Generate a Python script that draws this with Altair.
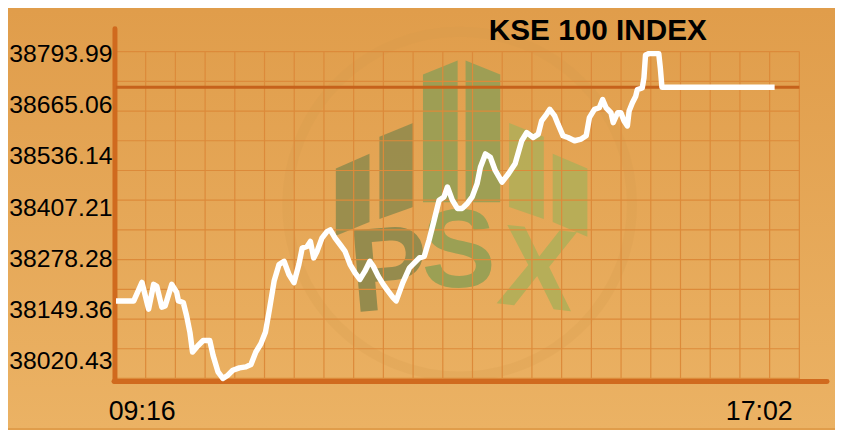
import altair as alt
import pandas as pd

# ---------------- data ----------------
title_text = "KSE 100 INDEX"

# minute of day (09:16 -> 556) and KSE-100 index value
minutes = [
    536.6, 550.0, 556.2, 561.2, 565.0, 567.4, 571.2, 573.7, 578.7, 582.4,
    583.7, 587.4, 589.9, 592.4, 594.4, 598.6, 602.4, 607.4, 609.9, 613.6,
    617.3, 621.1, 624.8, 629.8, 634.7, 638.5, 642.2, 646.0, 649.5, 652.5,
    656.0, 659.7, 663.5, 667.2, 671.0, 674.7, 677.2, 680.9, 683.4, 685.9,
    688.4, 692.1, 695.9, 698.4, 702.1, 705.9, 709.6, 713.4, 717.1, 720.8,
    724.6, 728.3, 730.9, 734.6, 738.4, 742.1, 745.8, 748.2, 753.2, 758.2,
    765.7, 769.4, 773.1, 776.9, 780.6, 784.3, 786.9, 790.6, 794.4, 798.1,
    801.9, 805.6, 809.3, 811.8, 815.6, 819.3, 823.0, 828.1, 833.0, 838.0,
    843.0, 846.8, 851.7, 855.5, 858.0, 861.7, 864.2, 867.9, 870.4, 874.2,
    877.9, 882.9, 887.9, 891.7, 894.1, 897.9, 901.6, 904.1, 906.7, 910.4,
    912.1, 915.4, 917.9, 920.3, 922.8, 924.1, 926.6, 929.1, 930.3, 934.0,
    935.3, 936.5, 939.0, 946.5, 947.7, 948.9, 1034.0,
]
index_values = [
    38170.9, 38170.9, 38217.6, 38150.2, 38212.6, 38207.6, 38155.2, 38158.4, 38212.6, 38192.6,
    38170.9, 38166.9, 38133.5, 38092.0, 38042.1, 38058.6, 38071.1, 38071.1, 38033.6, 37992.2,
    37975.5, 37983.7, 37996.2, 38002.2, 38004.7, 38010.4, 38042.1, 38062.9, 38092.8, 38150.2,
    38220.8, 38262.5, 38270.7, 38237.5, 38216.8, 38262.5, 38304.1, 38308.1, 38320.6, 38279.2,
    38295.6, 38329.1, 38345.6, 38349.8, 38329.1, 38312.4, 38295.6, 38262.5, 38241.8, 38225.0,
    38245.8, 38270.7, 38258.2, 38233.3, 38212.6, 38195.8, 38179.4, 38170.9, 38216.8, 38254.2,
    38279.2, 38283.2, 38324.9, 38374.8, 38424.7, 38432.9, 38457.9, 38424.7, 38403.9, 38403.9,
    38416.4, 38432.9, 38466.3, 38507.8, 38541.2, 38532.8, 38499.5, 38470.3, 38491.3, 38516.3,
    38574.4, 38595.1, 38582.6, 38591.1, 38624.3, 38641.0, 38653.5, 38636.8, 38616.1, 38586.9,
    38582.6, 38574.4, 38578.6, 38586.9, 38632.5, 38653.5, 38657.5, 38678.5, 38657.5, 38645.0,
    38620.1, 38645.0, 38645.0, 38624.3, 38611.8, 38649.3, 38670.0, 38686.7, 38703.4, 38707.4,
    38732.4, 38790.7, 38793.99, 38793.99, 38757.3, 38709.1, 38709.1,
]
previous_close = [38709.1]

y_tick_values = [38793.99, 38665.06, 38536.14, 38407.21, 38278.28, 38149.36, 38020.43]
x_tick_labels = ["09:16", "17:02"]

# ---------------- styling / layout ----------------
FONT = "Liberation Sans"
W, H = 690, 332
X_DOMAIN = [536.55, 1052.67]
Y_DOMAIN = [37970.5, 38799.0]

BG_TOP, BG_BOTTOM = "#e09d4b", "#ebb264"
GRID = "#dc8a3a"
AXIS = "#d06a1e"
REF = "#c6621b"


def to_minute(s):
    h, m = s.split(":")
    return int(h) * 60 + int(m)


x_tick_values = [to_minute(s) for s in x_tick_labels]
label_expr = " : ".join(
    f"datum.value == {v} ? '{s}'" for v, s in zip(x_tick_values, x_tick_labels)
) + " : ''"

df = pd.DataFrame({"minute": minutes, "value": index_values})

x_scale = alt.Scale(domain=X_DOMAIN, nice=False, zero=False)
y_scale = alt.Scale(domain=Y_DOMAIN, nice=False, zero=False)

x_enc = alt.X(
    "minute:Q", scale=x_scale,
    axis=alt.Axis(values=x_tick_values, labelExpr=label_expr, orient="bottom",
                  grid=False, domain=False, ticks=False, labelFontSize=27,
                  labelFont=FONT, labelColor="black", labelPadding=18,
                  labelFlush=False, labelOverlap=False, title=None, zindex=2),
)
y_enc = alt.Y(
    "value:Q", scale=y_scale,
    axis=alt.Axis(values=y_tick_values, format=".2f", orient="left",
                  grid=False, domain=False, ticks=False, labelFontSize=25,
                  labelFont=FONT, labelColor="black", labelPadding=4,
                  labelFlush=False, labelOverlap=False, title=None, zindex=2),
)

ref_line = alt.Chart(pd.DataFrame({"value": previous_close})).mark_rule(
    color=REF, strokeWidth=3
).encode(y=y_enc)

index_line = alt.Chart(df).mark_line(
    color="white", strokeWidth=5.5, strokeCap="butt", strokeJoin="round"
).encode(x=x_enc, y=y_enc)

data_layer = alt.layer(ref_line, index_line)

# ---------------- decoration (frame, grid, PSX watermark, title) ----------------
# drawn in the picture's own pixel space
px_x = alt.Scale(domain=[117, 807], nice=False, zero=False)
px_y = alt.Scale(domain=[50, 382], nice=False, zero=False, reverse=True)


def PX(field, **kw):
    return alt.X(field, scale=px_x, axis=None, **kw)


def PY(field, **kw):
    return alt.Y(field, scale=px_y, axis=None, **kw)


bg = alt.Chart(pd.DataFrame({"x": [8], "x2": [843], "y": [8], "y2": [430]})).mark_rect(
    color=alt.Gradient(gradient="linear", x1=0, y1=0, x2=0, y2=1,
                       stops=[alt.GradientStop(offset=0, color=BG_TOP),
                              alt.GradientStop(offset=1, color=BG_BOTTOM)])
).encode(x=PX("x:Q"), x2="x2:Q", y=PY("y:Q"), y2="y2:Q")

ring = alt.Chart(pd.DataFrame({"x": [464], "y": [204]})).mark_point(
    shape="circle", size=348 * 348, filled=False, strokeWidth=10,
    color="#d39a4c", opacity=0.2
).encode(x=PX("x:Q"), y=PY("y:Q"))

bar_left = [339, 383, 427, 470, 514, 558]
bar_right = [373, 417, 462, 505, 549, 593]
bar_top_left = [168, 136, 73, 59, 122, 153]
bar_top_right = [153, 122, 59, 73, 136, 168]
bar_bot_left = [236, 219, 202, 202, 207, 222]
bar_bot_right = [222, 207, 202, 202, 219, 237]
bar_colors = ["#978c4d", "#978c4d", "#9a9e54", "#9a9e54", "#b5ad57", "#b5ad57"]
rows = []
for i in range(6):
    rows.append({"bar": i, "x": bar_left[i], "top": bar_top_left[i], "bot": bar_bot_left[i]})
    rows.append({"bar": i, "x": bar_right[i], "top": bar_top_right[i], "bot": bar_bot_right[i]})
bars = alt.Chart(pd.DataFrame(rows)).mark_area(opacity=0.95).encode(
    x=PX("x:Q"), y=PY("top:Q"), y2="bot:Q",
    color=alt.Color("bar:N", scale=alt.Scale(domain=list(range(6)), range=bar_colors), legend=None),
)

letters = pd.DataFrame({
    "ch": ["P", "S", "X"],
    "x": [396, 463, 539],
    "y": [310, 288, 308],
    "size": [120, 112, 116],
    "angle": [355, 0, 6],
    "color": ["#958b4d", "#9ba054", "#b6ae58"],
})
logo_text = alt.Chart(letters).mark_text(
    font=FONT, fontWeight="bold", align="center", baseline="alphabetic"
).encode(
    x=PX("x:Q"), y=PY("y:Q"), text="ch:N",
    size=alt.Size("size:Q", scale=None),
    angle=alt.Angle("angle:Q", scale=None),
    color=alt.Color("color:N", scale=None),
)

grid_v = alt.Chart(pd.DataFrame({"x": list(range(147, 808, 30))})).mark_rule(
    color=GRID, strokeWidth=1.2).encode(x=PX("x:Q"))
grid_h = alt.Chart(pd.DataFrame({"y": list(range(50, 381, 30))})).mark_rule(
    color=GRID, strokeWidth=1.2).encode(y=PY("y:Q"))

axis_left = alt.Chart(pd.DataFrame({"x": [116], "y": [27], "y2": [383]})).mark_rule(
    color=AXIS, strokeWidth=5, strokeCap="round").encode(x=PX("x:Q"), y=PY("y:Q"), y2="y2:Q")
axis_bottom = alt.Chart(pd.DataFrame({"x": [115], "x2": [835], "y": [383]})).mark_rule(
    color=AXIS, strokeWidth=5, strokeCap="round").encode(x=PX("x:Q"), x2="x2:Q", y=PY("y:Q"))

title_mark = alt.Chart(pd.DataFrame({"t": [title_text], "x": [603.5], "y": [38.5]})).mark_text(
    font=FONT, fontWeight="bold", fontSize=30, color="black", align="center",
    baseline="alphabetic"
).encode(x=PX("x:Q"), y=PY("y:Q"), text="t:N")

decor = alt.layer(bg, ring, bars, logo_text, grid_v, grid_h, axis_left, axis_bottom, title_mark)

chart = alt.layer(decor, data_layer).resolve_scale(
    x="independent", y="independent", color="independent"
).properties(
    width=W, height=H,
    padding={"left": 109, "top": 42, "right": 36, "bottom": 48},
    autosize="none",
).configure_view(stroke=None).configure(background=BG_TOP)

chart.save("out.html", embed_options={"renderer": "svg", "actions": False})
